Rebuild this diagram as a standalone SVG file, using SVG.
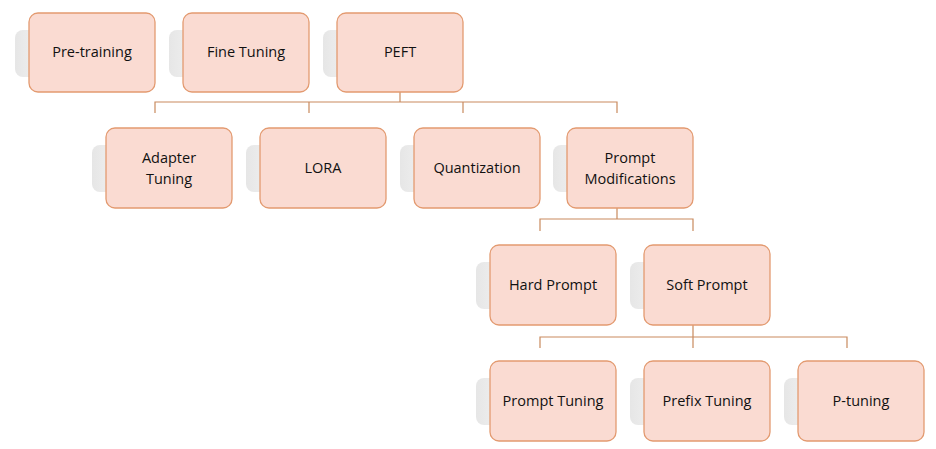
<svg xmlns="http://www.w3.org/2000/svg" width="936" height="449" viewBox="0 0 936 449">
<defs>
<linearGradient id="sh" x1="0" y1="0" x2="1" y2="0"><stop offset="0" stop-color="#e6e6e6"/><stop offset="1" stop-color="#f7f7f7"/></linearGradient>
<style>
.b{fill:#fadbd2;stroke:#e39a70;stroke-width:1.3}
.s{fill:url(#sh)}
.t{font-family:"Open Sans","Liberation Sans",sans-serif;font-size:14.5px;fill:#111;text-anchor:middle}
.c{fill:none;stroke:#c98a5e;stroke-width:1.2}
</style>
</defs>
<g id="connectors">
<path class="c" d="M400 92V102M155 113V102H617V113M309 102V113M463 102V113"/>
<path class="c" d="M617 208V219M540 231V219H693V231"/>
<path class="c" d="M693 325V337M540 348V337H847V348M693 337V348"/>
</g>
<g id="n1"><rect class="s" x="15" y="30" width="40" height="47" rx="8"/><rect class="b" x="29" y="13" width="126" height="79" rx="9"/><text class="t" x="92" y="57">Pre-training</text></g>
<g id="n2"><rect class="s" x="169" y="30" width="40" height="47" rx="8"/><rect class="b" x="183" y="13" width="126" height="79" rx="9"/><text class="t" x="246" y="57">Fine Tuning</text></g>
<g id="n3"><rect class="s" x="323" y="30" width="40" height="47" rx="8"/><rect class="b" x="337" y="13" width="126" height="79" rx="9"/><text class="t" x="400" y="57">PEFT</text></g>
<g id="n4"><rect class="s" x="92" y="145" width="40" height="47" rx="8"/><rect class="b" x="106" y="128" width="126" height="80" rx="9"/><text class="t" x="169" y="163">Adapter</text><text class="t" x="169" y="184">Tuning</text></g>
<g id="n5"><rect class="s" x="246" y="145" width="40" height="47" rx="8"/><rect class="b" x="260" y="128" width="126" height="80" rx="9"/><text class="t" x="323" y="173">LORA</text></g>
<g id="n6"><rect class="s" x="400" y="145" width="40" height="47" rx="8"/><rect class="b" x="414" y="128" width="126" height="80" rx="9"/><text class="t" x="477" y="173">Quantization</text></g>
<g id="n7"><rect class="s" x="553" y="145" width="40" height="47" rx="8"/><rect class="b" x="567" y="128" width="126" height="80" rx="9"/><text class="t" x="630" y="163">Prompt</text><text class="t" x="630" y="184">Modifications</text></g>
<g id="n8"><rect class="s" x="476" y="262" width="40" height="47" rx="8"/><rect class="b" x="490" y="245" width="126" height="80" rx="9"/><text class="t" x="553" y="290">Hard Prompt</text></g>
<g id="n9"><rect class="s" x="630" y="262" width="40" height="47" rx="8"/><rect class="b" x="644" y="245" width="126" height="80" rx="9"/><text class="t" x="707" y="290">Soft Prompt</text></g>
<g id="n10"><rect class="s" x="476" y="378" width="40" height="47" rx="8"/><rect class="b" x="490" y="361" width="126" height="80" rx="9"/><text class="t" x="553" y="406">Prompt Tuning</text></g>
<g id="n11"><rect class="s" x="630" y="378" width="40" height="47" rx="8"/><rect class="b" x="644" y="361" width="126" height="80" rx="9"/><text class="t" x="707" y="406">Prefix Tuning</text></g>
<g id="n12"><rect class="s" x="784" y="378" width="40" height="47" rx="8"/><rect class="b" x="798" y="361" width="126" height="80" rx="9"/><text class="t" x="861" y="406">P-tuning</text></g>
</svg>
